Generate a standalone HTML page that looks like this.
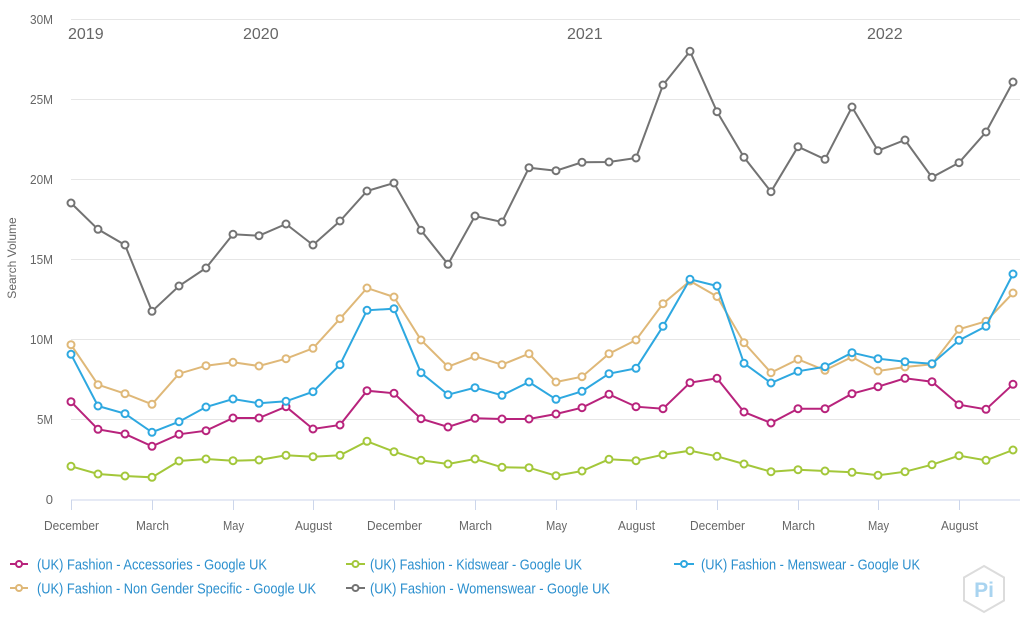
<!DOCTYPE html>
<html>
<head>
<meta charset="utf-8">
<style>
html,body{margin:0;padding:0;background:#fff;}
svg{display:block;font-family:"Liberation Sans",sans-serif;}
</style>
</head>
<body>
<svg width="1024" height="629" viewBox="0 0 1024 629" xmlns="http://www.w3.org/2000/svg">
<rect width="1024" height="629" fill="#fff"/>
<!-- gridlines -->
<g stroke="#e6e6e6" stroke-width="1">
<line x1="71" y1="19.5" x2="1020" y2="19.5"/>
<line x1="71" y1="99.5" x2="1020" y2="99.5"/>
<line x1="71" y1="179.5" x2="1020" y2="179.5"/>
<line x1="71" y1="259.5" x2="1020" y2="259.5"/>
<line x1="71" y1="339.5" x2="1020" y2="339.5"/>
<line x1="71" y1="419.5" x2="1020" y2="419.5"/>
</g>
<!-- x axis -->
<g stroke="#ccd6eb" stroke-width="1">
<line x1="71" y1="500" x2="1020" y2="500"/>
<line x1="71.5" y1="500" x2="71.5" y2="510"/>
<line x1="152.5" y1="500" x2="152.5" y2="510"/>
<line x1="233.5" y1="500" x2="233.5" y2="510"/>
<line x1="313.5" y1="500" x2="313.5" y2="510"/>
<line x1="394.5" y1="500" x2="394.5" y2="510"/>
<line x1="475.5" y1="500" x2="475.5" y2="510"/>
<line x1="556.5" y1="500" x2="556.5" y2="510"/>
<line x1="636.5" y1="500" x2="636.5" y2="510"/>
<line x1="717.5" y1="500" x2="717.5" y2="510"/>
<line x1="798.5" y1="500" x2="798.5" y2="510"/>
<line x1="878.5" y1="500" x2="878.5" y2="510"/>
<line x1="959.5" y1="500" x2="959.5" y2="510"/>
</g>
<!-- y labels -->
<g fill="#666" font-size="13" text-anchor="end">
<text x="53" y="24" textLength="23" lengthAdjust="spacingAndGlyphs">30M</text>
<text x="53" y="104" textLength="23" lengthAdjust="spacingAndGlyphs">25M</text>
<text x="53" y="184" textLength="23" lengthAdjust="spacingAndGlyphs">20M</text>
<text x="53" y="264" textLength="23" lengthAdjust="spacingAndGlyphs">15M</text>
<text x="53" y="344" textLength="23" lengthAdjust="spacingAndGlyphs">10M</text>
<text x="53" y="424" textLength="16" lengthAdjust="spacingAndGlyphs">5M</text>
<text x="53" y="504">0</text>
</g>
<text x="0" y="0" transform="translate(16,258) rotate(-90)" fill="#666" font-size="12" text-anchor="middle">Search Volume</text>
<!-- x labels -->
<g fill="#666" font-size="13" text-anchor="middle">
<text x="71.5" y="530" textLength="55" lengthAdjust="spacingAndGlyphs">December</text>
<text x="152.5" y="530" textLength="33" lengthAdjust="spacingAndGlyphs">March</text>
<text x="233.5" y="530" textLength="21" lengthAdjust="spacingAndGlyphs">May</text>
<text x="313.5" y="530" textLength="37" lengthAdjust="spacingAndGlyphs">August</text>
<text x="394.5" y="530" textLength="55" lengthAdjust="spacingAndGlyphs">December</text>
<text x="475.5" y="530" textLength="33" lengthAdjust="spacingAndGlyphs">March</text>
<text x="556.5" y="530" textLength="21" lengthAdjust="spacingAndGlyphs">May</text>
<text x="636.5" y="530" textLength="37" lengthAdjust="spacingAndGlyphs">August</text>
<text x="717.5" y="530" textLength="55" lengthAdjust="spacingAndGlyphs">December</text>
<text x="798.5" y="530" textLength="33" lengthAdjust="spacingAndGlyphs">March</text>
<text x="878.5" y="530" textLength="21" lengthAdjust="spacingAndGlyphs">May</text>
<text x="959.5" y="530" textLength="37" lengthAdjust="spacingAndGlyphs">August</text>
</g>
<!-- year labels -->
<g fill="#666" font-size="16">
<text x="68" y="39">2019</text>
<text x="243" y="39">2020</text>
<text x="567" y="39">2021</text>
<text x="867" y="39">2022</text>
</g>

<!-- Kidswear -->
<g fill="none" stroke="#a3c73a" stroke-width="2">
<polyline points="71,466.3 98,474 125,476 152,477.3 179,461 206,459 233,460.7 259,460 286,455.3 313,456.7 340,455.3 367,441.3 394,451.7 421,460.3 448,464 475,459 502,467.3 529,467.7 556,475.7 582,471 609,459.3 636,460.7 663,454.7 690,450.7 717,456.3 744,464 771,471.7 798,469.7 825,471 852,472.3 878,475.3 905,471.7 932,464.7 959,455.7 986,460.3 1013,450"/>
<g fill="#fff">
<circle cx="71" cy="466.3" r="3.5"/><circle cx="98" cy="474" r="3.5"/><circle cx="125" cy="476" r="3.5"/><circle cx="152" cy="477.3" r="3.5"/><circle cx="179" cy="461" r="3.5"/><circle cx="206" cy="459" r="3.5"/><circle cx="233" cy="460.7" r="3.5"/><circle cx="259" cy="460" r="3.5"/><circle cx="286" cy="455.3" r="3.5"/><circle cx="313" cy="456.7" r="3.5"/><circle cx="340" cy="455.3" r="3.5"/><circle cx="367" cy="441.3" r="3.5"/><circle cx="394" cy="451.7" r="3.5"/><circle cx="421" cy="460.3" r="3.5"/><circle cx="448" cy="464" r="3.5"/><circle cx="475" cy="459" r="3.5"/><circle cx="502" cy="467.3" r="3.5"/><circle cx="529" cy="467.7" r="3.5"/><circle cx="556" cy="475.7" r="3.5"/><circle cx="582" cy="471" r="3.5"/><circle cx="609" cy="459.3" r="3.5"/><circle cx="636" cy="460.7" r="3.5"/><circle cx="663" cy="454.7" r="3.5"/><circle cx="690" cy="450.7" r="3.5"/><circle cx="717" cy="456.3" r="3.5"/><circle cx="744" cy="464" r="3.5"/><circle cx="771" cy="471.7" r="3.5"/><circle cx="798" cy="469.7" r="3.5"/><circle cx="825" cy="471" r="3.5"/><circle cx="852" cy="472.3" r="3.5"/><circle cx="878" cy="475.3" r="3.5"/><circle cx="905" cy="471.7" r="3.5"/><circle cx="932" cy="464.7" r="3.5"/><circle cx="959" cy="455.7" r="3.5"/><circle cx="986" cy="460.3" r="3.5"/><circle cx="1013" cy="450" r="3.5"/>
</g>
</g>

<!-- Accessories -->
<g fill="none" stroke="#b8237c" stroke-width="2">
<polyline points="71,401.7 98,429.3 125,434 152,446.3 179,434.3 206,430.7 233,418 259,418 286,406.7 313,429 340,425 367,390.7 394,393.3 421,418.7 448,427 475,418.3 502,419 529,419 556,414 582,407.7 609,394.3 636,406.7 663,408.7 690,382.7 717,378.3 744,412 771,423 798,408.7 825,408.7 852,393.7 878,386.7 905,378.3 932,381.7 959,404.7 986,409.3 1013,384.3"/>
<g fill="#fff">
<circle cx="71" cy="401.7" r="3.5"/><circle cx="98" cy="429.3" r="3.5"/><circle cx="125" cy="434" r="3.5"/><circle cx="152" cy="446.3" r="3.5"/><circle cx="179" cy="434.3" r="3.5"/><circle cx="206" cy="430.7" r="3.5"/><circle cx="233" cy="418" r="3.5"/><circle cx="259" cy="418" r="3.5"/><circle cx="286" cy="406.7" r="3.5"/><circle cx="313" cy="429" r="3.5"/><circle cx="340" cy="425" r="3.5"/><circle cx="367" cy="390.7" r="3.5"/><circle cx="394" cy="393.3" r="3.5"/><circle cx="421" cy="418.7" r="3.5"/><circle cx="448" cy="427" r="3.5"/><circle cx="475" cy="418.3" r="3.5"/><circle cx="502" cy="419" r="3.5"/><circle cx="529" cy="419" r="3.5"/><circle cx="556" cy="414" r="3.5"/><circle cx="582" cy="407.7" r="3.5"/><circle cx="609" cy="394.3" r="3.5"/><circle cx="636" cy="406.7" r="3.5"/><circle cx="663" cy="408.7" r="3.5"/><circle cx="690" cy="382.7" r="3.5"/><circle cx="717" cy="378.3" r="3.5"/><circle cx="744" cy="412" r="3.5"/><circle cx="771" cy="423" r="3.5"/><circle cx="798" cy="408.7" r="3.5"/><circle cx="825" cy="408.7" r="3.5"/><circle cx="852" cy="393.7" r="3.5"/><circle cx="878" cy="386.7" r="3.5"/><circle cx="905" cy="378.3" r="3.5"/><circle cx="932" cy="381.7" r="3.5"/><circle cx="959" cy="404.7" r="3.5"/><circle cx="986" cy="409.3" r="3.5"/><circle cx="1013" cy="384.3" r="3.5"/>
</g>
</g>

<!-- Non Gender Specific -->
<g fill="none" stroke="#dfb878" stroke-width="2">
<polyline points="71,344.7 98,384.7 125,393.7 152,404.3 179,373.7 206,365.7 233,362.3 259,366 286,358.7 313,348.3 340,318.7 367,288 394,297 421,340 448,366.7 475,356.3 502,364.7 529,353.7 556,382 582,376.7 609,353.7 636,340 663,303.7 690,281 717,296.5 744,342.7 771,372.7 798,359.3 825,370.3 852,357 878,371 905,367 932,364.3 959,329.3 986,321.3 1013,293"/>
<g fill="#fff">
<circle cx="71" cy="344.7" r="3.5"/><circle cx="98" cy="384.7" r="3.5"/><circle cx="125" cy="393.7" r="3.5"/><circle cx="152" cy="404.3" r="3.5"/><circle cx="179" cy="373.7" r="3.5"/><circle cx="206" cy="365.7" r="3.5"/><circle cx="233" cy="362.3" r="3.5"/><circle cx="259" cy="366" r="3.5"/><circle cx="286" cy="358.7" r="3.5"/><circle cx="313" cy="348.3" r="3.5"/><circle cx="340" cy="318.7" r="3.5"/><circle cx="367" cy="288" r="3.5"/><circle cx="394" cy="297" r="3.5"/><circle cx="421" cy="340" r="3.5"/><circle cx="448" cy="366.7" r="3.5"/><circle cx="475" cy="356.3" r="3.5"/><circle cx="502" cy="364.7" r="3.5"/><circle cx="529" cy="353.7" r="3.5"/><circle cx="556" cy="382" r="3.5"/><circle cx="582" cy="376.7" r="3.5"/><circle cx="609" cy="353.7" r="3.5"/><circle cx="636" cy="340" r="3.5"/><circle cx="663" cy="303.7" r="3.5"/><circle cx="690" cy="281" r="3.5"/><circle cx="717" cy="296.5" r="3.5"/><circle cx="744" cy="342.7" r="3.5"/><circle cx="771" cy="372.7" r="3.5"/><circle cx="798" cy="359.3" r="3.5"/><circle cx="825" cy="370.3" r="3.5"/><circle cx="852" cy="357" r="3.5"/><circle cx="878" cy="371" r="3.5"/><circle cx="905" cy="367" r="3.5"/><circle cx="932" cy="364.3" r="3.5"/><circle cx="959" cy="329.3" r="3.5"/><circle cx="986" cy="321.3" r="3.5"/><circle cx="1013" cy="293" r="3.5"/>
</g>
</g>

<!-- Menswear -->
<g fill="none" stroke="#2ea8e0" stroke-width="2">
<polyline points="71,354.3 98,406 125,413.7 152,432.3 179,421.7 206,407 233,399 259,403.3 286,401.3 313,391.7 340,364.7 367,310.3 394,308.7 421,372.7 448,394.7 475,387.7 502,395.3 529,382 556,399.3 582,391.3 609,373.7 636,368.3 663,326.3 690,279.3 717,286 744,363.3 771,383 798,371.3 825,366.7 852,352.7 878,358.7 905,361.7 932,363.7 959,340.3 986,326.3 1013,274"/>
<g fill="#fff">
<circle cx="71" cy="354.3" r="3.5"/><circle cx="98" cy="406" r="3.5"/><circle cx="125" cy="413.7" r="3.5"/><circle cx="152" cy="432.3" r="3.5"/><circle cx="179" cy="421.7" r="3.5"/><circle cx="206" cy="407" r="3.5"/><circle cx="233" cy="399" r="3.5"/><circle cx="259" cy="403.3" r="3.5"/><circle cx="286" cy="401.3" r="3.5"/><circle cx="313" cy="391.7" r="3.5"/><circle cx="340" cy="364.7" r="3.5"/><circle cx="367" cy="310.3" r="3.5"/><circle cx="394" cy="308.7" r="3.5"/><circle cx="421" cy="372.7" r="3.5"/><circle cx="448" cy="394.7" r="3.5"/><circle cx="475" cy="387.7" r="3.5"/><circle cx="502" cy="395.3" r="3.5"/><circle cx="529" cy="382" r="3.5"/><circle cx="556" cy="399.3" r="3.5"/><circle cx="582" cy="391.3" r="3.5"/><circle cx="609" cy="373.7" r="3.5"/><circle cx="636" cy="368.3" r="3.5"/><circle cx="663" cy="326.3" r="3.5"/><circle cx="690" cy="279.3" r="3.5"/><circle cx="717" cy="286" r="3.5"/><circle cx="744" cy="363.3" r="3.5"/><circle cx="771" cy="383" r="3.5"/><circle cx="798" cy="371.3" r="3.5"/><circle cx="825" cy="366.7" r="3.5"/><circle cx="852" cy="352.7" r="3.5"/><circle cx="878" cy="358.7" r="3.5"/><circle cx="905" cy="361.7" r="3.5"/><circle cx="932" cy="363.7" r="3.5"/><circle cx="959" cy="340.3" r="3.5"/><circle cx="986" cy="326.3" r="3.5"/><circle cx="1013" cy="274" r="3.5"/>
</g>
</g>

<!-- Womenswear -->
<g fill="none" stroke="#737373" stroke-width="2">
<polyline points="71,203 98,229.3 125,245 152,311.3 179,286 206,268 233,234.3 259,235.7 286,224 313,245 340,221 367,191 394,183 421,230.3 448,264.3 475,216 502,222 529,167.7 556,170.7 582,162.3 609,162 636,158 663,85 690,51.3 717,111.7 744,157.3 771,191.7 798,146.7 825,159.3 852,107 878,150.7 905,140 932,177.3 959,162.7 986,132 1013,82"/>
<g fill="#fff">
<circle cx="71" cy="203" r="3.5"/><circle cx="98" cy="229.3" r="3.5"/><circle cx="125" cy="245" r="3.5"/><circle cx="152" cy="311.3" r="3.5"/><circle cx="179" cy="286" r="3.5"/><circle cx="206" cy="268" r="3.5"/><circle cx="233" cy="234.3" r="3.5"/><circle cx="259" cy="235.7" r="3.5"/><circle cx="286" cy="224" r="3.5"/><circle cx="313" cy="245" r="3.5"/><circle cx="340" cy="221" r="3.5"/><circle cx="367" cy="191" r="3.5"/><circle cx="394" cy="183" r="3.5"/><circle cx="421" cy="230.3" r="3.5"/><circle cx="448" cy="264.3" r="3.5"/><circle cx="475" cy="216" r="3.5"/><circle cx="502" cy="222" r="3.5"/><circle cx="529" cy="167.7" r="3.5"/><circle cx="556" cy="170.7" r="3.5"/><circle cx="582" cy="162.3" r="3.5"/><circle cx="609" cy="162" r="3.5"/><circle cx="636" cy="158" r="3.5"/><circle cx="663" cy="85" r="3.5"/><circle cx="690" cy="51.3" r="3.5"/><circle cx="717" cy="111.7" r="3.5"/><circle cx="744" cy="157.3" r="3.5"/><circle cx="771" cy="191.7" r="3.5"/><circle cx="798" cy="146.7" r="3.5"/><circle cx="825" cy="159.3" r="3.5"/><circle cx="852" cy="107" r="3.5"/><circle cx="878" cy="150.7" r="3.5"/><circle cx="905" cy="140" r="3.5"/><circle cx="932" cy="177.3" r="3.5"/><circle cx="959" cy="162.7" r="3.5"/><circle cx="986" cy="132" r="3.5"/><circle cx="1013" cy="82" r="3.5"/>
</g>
</g>

<!-- legend -->
<g stroke-width="2" fill="#fff">
<line x1="10" y1="564" x2="28" y2="564" stroke="#b8237c"/><circle cx="19" cy="564" r="3" stroke="#b8237c"/>
<line x1="346" y1="564" x2="365" y2="564" stroke="#a3c73a"/><circle cx="355.5" cy="564" r="3" stroke="#a3c73a"/>
<line x1="674" y1="564" x2="694" y2="564" stroke="#2ea8e0"/><circle cx="684" cy="564" r="3" stroke="#2ea8e0"/>
<line x1="10" y1="588" x2="28" y2="588" stroke="#dfb878"/><circle cx="19" cy="588" r="3" stroke="#dfb878"/>
<line x1="346" y1="588" x2="365" y2="588" stroke="#737373"/><circle cx="355.5" cy="588" r="3" stroke="#737373"/>
</g>
<g fill="#2b8fce" font-size="15">
<text x="37" y="569.5" textLength="230" lengthAdjust="spacingAndGlyphs">(UK) Fashion - Accessories - Google UK</text>
<text x="370" y="569.5" textLength="212" lengthAdjust="spacingAndGlyphs">(UK) Fashion - Kidswear - Google UK</text>
<text x="701" y="569.5" textLength="219" lengthAdjust="spacingAndGlyphs">(UK) Fashion - Menswear - Google UK</text>
<text x="37" y="593.5" textLength="279" lengthAdjust="spacingAndGlyphs">(UK) Fashion - Non Gender Specific - Google UK</text>
<text x="370" y="593.5" textLength="240" lengthAdjust="spacingAndGlyphs">(UK) Fashion - Womenswear - Google UK</text>
</g>

<!-- Pi logo -->
<polygon points="984,566 1004,577.5 1004,600.5 984,612 964,600.5 964,577.5" fill="none" stroke="#dcdcdc" stroke-width="2"/>
<text x="984" y="597" fill="#a9d4f0" font-size="21" font-weight="bold" text-anchor="middle">Pi</text>
</svg>
</body>
</html>
